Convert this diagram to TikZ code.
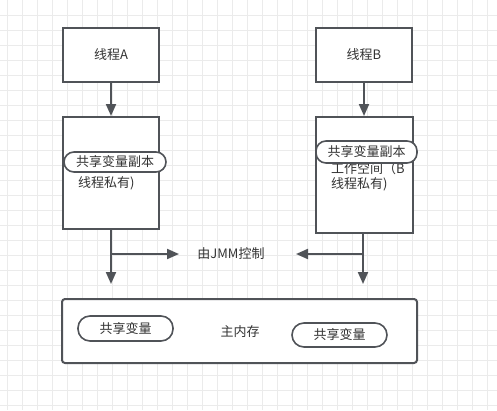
\documentclass[tikz,border=0pt]{standalone}
\usepackage{fontspec}
\setmainfont{Noto Sans CJK SC}
\usetikzlibrary{arrows.meta}
\definecolor{edge}{HTML}{505358}
\definecolor{gridc}{HTML}{EBEBEB}
\definecolor{txt}{HTML}{333333}
\tikzset{
  boxn/.style={draw=edge, line width=2pt, fill=white, inner sep=0pt},
  pilln/.style={draw=edge, line width=1.6pt, fill=white, inner sep=0pt, rounded corners=10pt},
  lbl/.style={text=txt, font=\fontsize{13pt}{15pt}\selectfont, inner sep=0pt},
  conn/.style={draw=edge, line width=2pt, -{Triangle[length=12pt,width=10pt]}},
}
\begin{document}
\begin{tikzpicture}[x=1pt,y=-1pt]
\useasboundingbox (0,0) rectangle (497,410);
\fill[white] (0,0) rectangle (497,410);
% grid
\foreach \k in {0,...,32} { \draw[gridc, line width=1pt] ({7+15*\k},0) -- ({7+15*\k},410); }
\foreach \k in {1,...,27} { \draw[gridc, line width=1pt] (0,{15*\k}) -- (497,{15*\k}); }

% top boxes
\node[boxn, minimum width=96pt, minimum height=54pt] (A) at (111,55) {};
\node[lbl] (At) at (111,55) {线程A};
\node[boxn, minimum width=96pt, minimum height=54pt] (B) at (364,55) {};
\node[lbl] (Bt) at (364,55) {线程B};

% working memory boxes
\node[boxn, minimum width=96pt, minimum height=112pt] (A2) at (111,173) {};
\node[lbl, anchor=west] (A2t) at (78,183) {线程私有)};
\node[pilln, minimum width=102pt, minimum height=20pt] (pA) at (115,162) {};
\node[lbl] (pAt) at (115,162) {共享变量副本};

\node[boxn, minimum width=97pt, minimum height=116pt] (B2) at (364.5,175) {};
\node[lbl, anchor=west] (B2t1) at (331,169) {工作空间（B};
\node[lbl, anchor=west] (B2t2) at (331,184.5) {线程私有)};
\node[pilln, minimum width=101pt, minimum height=22pt] (pB) at (366.5,152) {};
\node[lbl] (pBt) at (366.5,152) {共享变量副本};

% main memory
\node[boxn, rounded corners=3pt, minimum width=355pt, minimum height=64pt] (M) at (239.5,331) {};
\node[lbl] (Mt) at (240,332) {主内存};
\node[pilln, rounded corners=12pt, minimum width=95pt, minimum height=25pt] (p1) at (125.5,328.5) {};
\node[lbl] (p1t) at (125.5,328.5) {共享变量};
\node[pilln, rounded corners=12pt, minimum width=95pt, minimum height=24pt] (p2) at (339.5,335) {};
\node[lbl] (p2t) at (339.5,335) {共享变量};

\node[lbl] (J) at (231,254) {由JMM控制};

% connectors
\coordinate (aEnd) at (111,284);
\coordinate (bTop) at (363,233);
\coordinate (bEnd) at (363,284);
\coordinate (aMid) at (111,254);
\coordinate (aTip) at (179,254);
\coordinate (bMid) at (364,254);
\coordinate (bTip) at (296,254);

\draw[conn] (A.south) -- (A2.north);
\draw[conn] (B.south) -- (B.south |- B2.north);
\draw[conn] (A2.south) -- (aEnd);
\draw[conn] (bTop) -- (bEnd);
\draw[conn] (aMid) -- (aTip);
\draw[conn] (bMid) -- (bTip);
\end{tikzpicture}
\end{document}
